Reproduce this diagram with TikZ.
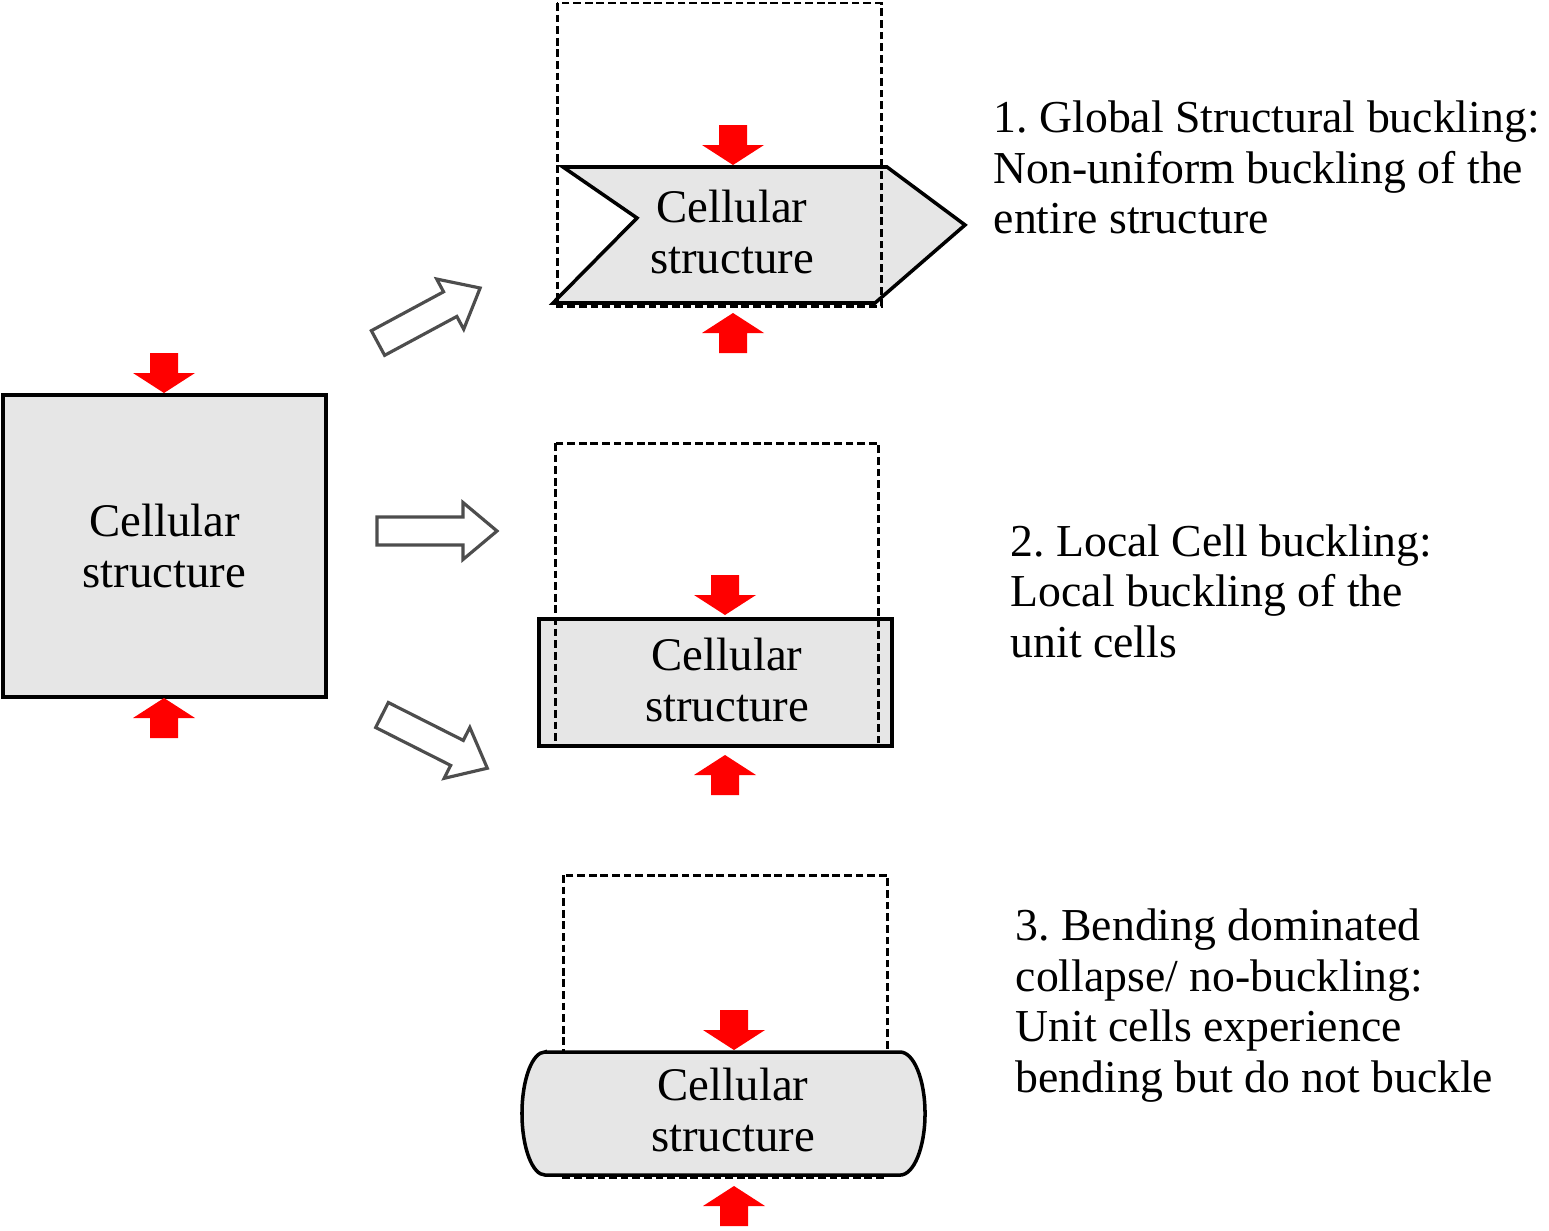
\documentclass[tikz,border=0pt]{standalone}
\usepackage{fontspec}
\setmainfont{Liberation Serif}
\frenchspacing
\usetikzlibrary{calc}
\definecolor{cellfill}{HTML}{E6E6E6}
\definecolor{loadred}{HTML}{FF0000}
\definecolor{hollowedge}{HTML}{4D4D4D}
\tikzset{
  cell/.style={
    draw=black,
    line width=1pt,
    fill=cellfill,
    line join=miter
  },
  celltext/.style={
    align=center,
    font=\fontsize{13.3}{14.4}\selectfont,
    inner sep=0pt
  },
  ghost/.style={draw=black, line width=0.85pt, dash pattern=on 2.2pt off 1.1pt},
  load/.style={fill=loadred},
  hollow/.style={draw=hollowedge, line width=0.9pt, fill=white, line join=miter},
  caption/.style={
    align=left,
    anchor=west,
    font=\fontsize{13}{14.4}\selectfont,
    inner sep=0pt
  }
}

\begin{document}
\begin{tikzpicture}[x=0.01cm,y=0.01cm]
\useasboundingbox (0,0) rectangle (1549,-1230);

% initial specimen
\node[cell, celltext, minimum width=3.23cm, minimum height=3.02cm] (start) at (164.5,-546) {Cellular\\structure};

% 1. global buckling
\draw[cell] (563,-167) -- (887,-167) -- (965,-225) -- (875,-303) -- (553,-303) -- (637,-218) -- cycle;
\node[celltext] (global) at (732,-232) {Cellular\\structure};
\draw[ghost] (557,-3) rectangle (881,-306);

% 2. local buckling
\node[cell, minimum width=3.53cm, minimum height=1.27cm] (local) at (715.5,-682.5) {};
\draw[ghost] (555,-443) rectangle (878,-745);
\node[celltext] (localtext) at (727,-680) {Cellular\\structure};

% 3. bending
\draw[ghost] (563,-875) rectangle (887,-1177);
\draw[cell] (545,-1052) -- (900,-1052)
  arc[start angle=90, end angle=-90, x radius=0.25cm, y radius=0.615cm]
  -- (545,-1175)
  arc[start angle=270, end angle=90, x radius=0.23cm, y radius=0.615cm] -- cycle;
\node[celltext] (bend) at (733,-1110) {Cellular\\structure};

% compressive loads
\foreach \x/\ya/\yb in {164/393/698, 733/165/313, 725/615/755, 734/1050/1186} {
  \fill[load] (\x,-\ya) -- ++(31,20) -- ++(-17,0) -- ++(0,20) -- ++(-28,0) -- ++(0,-20) -- ++(-17,0) -- cycle;
  \fill[load] (\x,-\yb) -- ++(31,-20) -- ++(-17,0) -- ++(0,-20) -- ++(-28,0) -- ++(0,20) -- ++(-17,0) -- cycle;
}

% outcome arrows
\foreach \x/\y/\a/\l in {378/-343/28.3/116, 377/-531/0/120, 382/-715/-26.8/118} {
  \begin{scope}[shift={(\x,\y)}, rotate=\a]
    \draw[hollow] (0,-14) -- (\l-34,-14) -- (\l-34,-28.5) -- (\l,0) -- (\l-34,28.5) -- (\l-34,14) -- (0,14) -- cycle;
  \end{scope}
}

\node[caption] (cap1) at (993,-167.5) {1. Global Structural buckling:\\Non-uniform buckling of the\\entire structure};
\node[caption] (cap2) at (1010,-591) {2. Local Cell buckling:\\Local buckling of the\\unit cells};
\node[caption] (cap3) at (1015,-1005.5) {3. Bending dominated\\collapse/ no-buckling:\\Unit cells experience\\bending but do not buckle};

\end{tikzpicture}
\end{document}
